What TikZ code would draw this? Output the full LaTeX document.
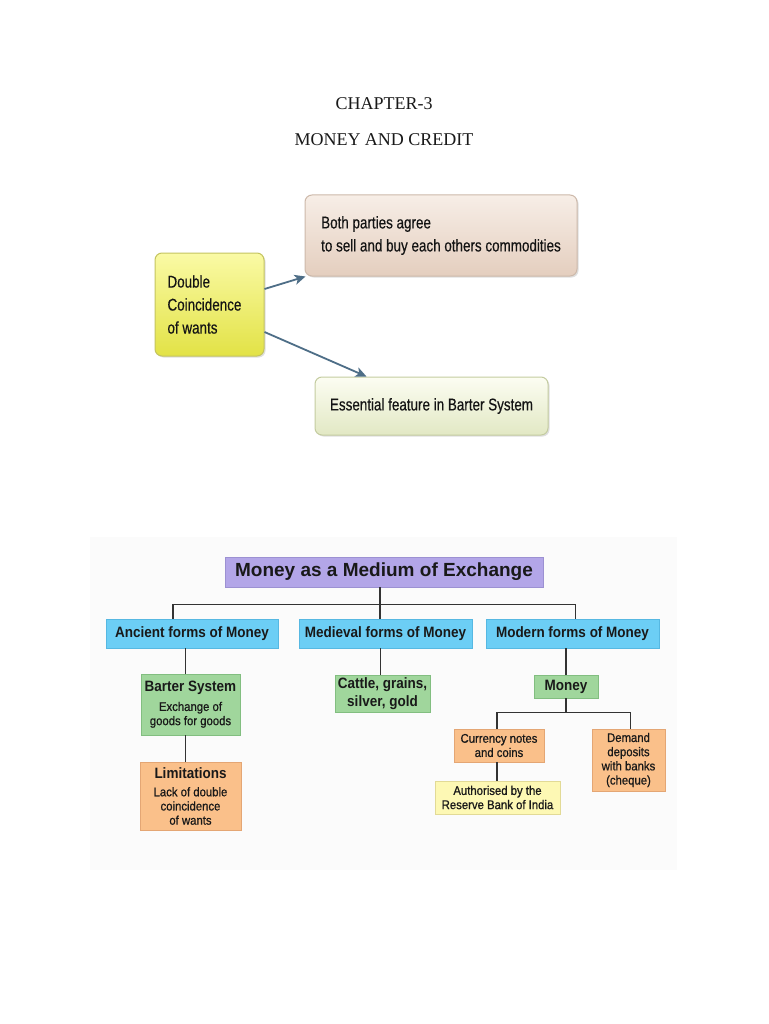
\documentclass[tikz,border=0pt]{standalone}
\usepackage{fontspec}
\setmainfont{Liberation Sans}
\newfontfamily\serifT{Liberation Serif}
\newfontfamily\narrowT{Liberation Sans}[FakeStretch=0.79,FakeBold=0.4]
\newfontfamily\condT{Liberation Sans}[FakeStretch=0.9]
\newfontfamily\medT{Liberation Sans}[FakeStretch=0.9,FakeBold=0.7]
\usetikzlibrary{arrows.meta,shadows}
\definecolor{yelA}{RGB}{250,250,165}
\definecolor{yelB}{RGB}{226,226,70}
\definecolor{yelD}{RGB}{196,196,96}
\definecolor{begA}{RGB}{247,238,231}
\definecolor{begB}{RGB}{228,206,190}
\definecolor{begD}{RGB}{205,185,170}
\definecolor{grnA}{RGB}{252,253,242}
\definecolor{grnB}{RGB}{226,232,196}
\definecolor{grnD}{RGB}{196,204,160}
\definecolor{arrc}{RGB}{78,110,135}
\definecolor{purp}{RGB}{179,166,232}
\definecolor{purpD}{RGB}{156,145,210}
\definecolor{bluf}{RGB}{108,206,245}
\definecolor{bluD}{RGB}{86,184,226}
\definecolor{grf}{RGB}{160,214,156}
\definecolor{grD}{RGB}{130,190,128}
\definecolor{orf}{RGB}{250,192,138}
\definecolor{orD}{RGB}{228,166,116}
\definecolor{yef}{RGB}{253,248,180}
\definecolor{yeD}{RGB}{226,218,150}
\definecolor{bgc}{RGB}{251,251,251}
\definecolor{txt}{RGB}{25,25,25}
\begin{document}
\begin{tikzpicture}[x=1pt,y=-1pt,
  heading/.style={font=\serifT\fontsize{18}{20}\selectfont, text=black!90, inner sep=0pt},
  topbox/.style={rounded corners=7pt, line width=1pt, inner sep=0pt,
    drop shadow={shadow xshift=1.5pt, shadow yshift=-1.5pt, opacity=0.25},
    font=\narrowT\fontsize{17}{23}\selectfont, text=black!92},
  arr/.style={draw=arrc, line width=1.8pt, -{Stealth[length=11pt,width=10pt,inset=3pt]}},
  tbox/.style={draw, line width=0.8pt, inner sep=0pt, align=center, text=txt},
  tree/.style={draw=black!80, line width=1.2pt},
  smallt/.style={font=\medT\fontsize{12.6}{14.2}\selectfont}
]
\useasboundingbox (0,0) rectangle (768,1024);
\fill[white] (0,0) rectangle (768,1024);

% headings
\node[heading] (chap) at (384,104) {CHAPTER-3};
\node[heading] (title) at (384,140) {MONEY AND CREDIT};

% top diagram
\node[topbox, top color=yelA, bottom color=yelB, draw=yelD,
  minimum width=109pt, minimum height=103pt, text width=84pt, align=flush left]
  (dcw) at (209.5,304.5) {Double\\Coincidence\\of wants};
\node[topbox, top color=begA, bottom color=begB, draw=begD,
  minimum width=272pt, minimum height=81pt, align=left]
  (both) at (441,235.5) {Both parties agree\\to sell and buy each others commodities};
\node[topbox, top color=grnA, bottom color=grnB, draw=grnD,
  minimum width=233pt, minimum height=58pt, align=left]
  (ess) at (431.5,406) {Essential feature in Barter System};
\draw[arr] ([yshift=15.5pt]dcw.east) -- ([xshift=1pt]both.south west);
\draw[arr] ([yshift=-27.5pt]dcw.east) -- ([xshift=52pt]ess.north west);

% bottom diagram background
\fill[bgc] (90,537) rectangle (677,870);

\node[tbox, fill=purp, draw=purpD, minimum width=318pt, minimum height=30pt,
  font=\bfseries\fontsize{19}{22}\selectfont] (mme) at (384,572) {Money as a Medium of Exchange};

\node[tbox, fill=bluf, draw=bluD, minimum width=172pt, minimum height=29pt,
  font=\condT\bfseries\fontsize{15}{17}\selectfont] (anc) at (192,633.5) {Ancient forms of Money};
\node[tbox, fill=bluf, draw=bluD, minimum width=173pt, minimum height=29pt,
  font=\condT\bfseries\fontsize{15}{17}\selectfont] (med) at (385.5,633.5) {Medieval forms of Money};
\node[tbox, fill=bluf, draw=bluD, minimum width=173pt, minimum height=29pt,
  font=\condT\bfseries\fontsize{15}{17}\selectfont] (mod) at (572.5,633.5) {Modern forms of Money};

\node[tbox, smallt, fill=grf, draw=grD, minimum width=99pt, minimum height=61pt]
  (bart) at (190.5,704.5) {{\condT\bfseries\fontsize{15}{17}\selectfont Barter System}\\[5pt]Exchange of\\goods for goods};
\node[tbox, smallt, fill=orf, draw=orD, minimum width=101pt, minimum height=68pt]
  (lim) at (190.5,796) {{\condT\bfseries\fontsize{15}{17}\selectfont Limitations}\\[4pt]Lack of double\\coincidence\\of wants};
\node[tbox, fill=grf, draw=grD, minimum width=95pt, minimum height=37pt,
  font=\condT\bfseries\fontsize{15}{18}\selectfont] (cat) at (382.5,693.5) {Cattle, grains,\\silver, gold};
\node[tbox, fill=grf, draw=grD, minimum width=64pt, minimum height=23pt,
  font=\condT\bfseries\fontsize{15}{17}\selectfont] (mon) at (566,686.5) {Money};

\node[tbox, smallt, fill=orf, draw=orD, minimum width=90pt, minimum height=33pt]
  (cur) at (499,745.5) {Currency notes\\and coins};
\node[tbox, smallt, fill=orf, draw=orD, minimum width=73pt, minimum height=62pt]
  (dem) at (628.5,760) {Demand\\deposits\\with banks\\(cheque)};
\node[tbox, smallt, fill=yef, draw=yeD, minimum width=125pt, minimum height=33pt]
  (auth) at (497.5,797.5) {Authorised by the\\Reserve Bank of India};

% tree connectors
\draw[tree] ([xshift=-4pt]mme.south) -- ++(0,17) coordinate (j1);
\draw[tree] ([xshift=-19pt]anc.north) |- (j1) -| ([xshift=3pt]mod.north);
\draw[tree] (j1) -- (j1 |- med.north);
\draw[tree] ([xshift=-5pt]bart.north) -- ([xshift=-5pt]bart.north |- anc.south);
\draw[tree] ([xshift=-5pt]bart.south) -- ([xshift=-5pt]bart.south |- lim.north);
\draw[tree] ([xshift=-2pt]cat.north) -- ([xshift=-2pt]cat.north |- med.south);
\draw[tree] (mon.north) -- (mon.north |- mod.south);
\draw[tree] (mon.south) -- ++(0,14) coordinate (j2);
\draw[tree] ([xshift=-2pt]cur.north) |- (j2) -| ([xshift=2pt]dem.north);
\draw[tree] ([xshift=-2pt]cur.south) -- ([xshift=-2pt]cur.south |- auth.north);
\end{tikzpicture}
\end{document}
